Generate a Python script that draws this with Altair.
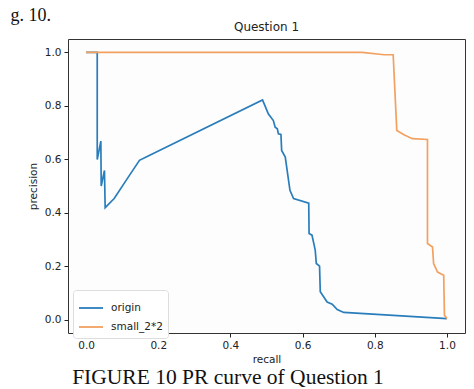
import altair as alt
import pandas as pd

# origin PR curve (recall, precision)
origin_recall = [0.0, 0.031, 0.031, 0.041, 0.042, 0.051, 0.053, 0.078, 0.111, 0.148, 0.175,
                 0.489, 0.505, 0.519, 0.524, 0.530, 0.533, 0.540, 0.542, 0.552, 0.565, 0.575,
                 0.617, 0.618, 0.626, 0.635, 0.638, 0.647, 0.649, 0.668, 0.682, 0.696, 0.714, 1.0]
origin_precision = [1.0, 1.0, 0.599, 0.668, 0.500, 0.558, 0.419, 0.453, 0.521, 0.596, 0.614,
                    0.822, 0.770, 0.745, 0.720, 0.714, 0.695, 0.693, 0.633, 0.608, 0.484, 0.453,
                    0.436, 0.322, 0.316, 0.260, 0.210, 0.200, 0.104, 0.066, 0.058, 0.038, 0.027, 0.004]

# small_2*2 PR curve
small_recall = [0.0, 0.765, 0.826, 0.851, 0.861, 0.881, 0.904, 0.946, 0.946, 0.960, 0.963,
                0.974, 0.991, 0.993, 1.0]
small_precision = [1.0, 1.0, 0.991, 0.991, 0.708, 0.692, 0.677, 0.674, 0.285, 0.272, 0.210,
                   0.178, 0.166, 0.017, 0.004]

series_names = ["origin", "small_2*2"]
series_colors = ["#2a7dbb", "#f2a160"]
ticks = [0.0, 0.2, 0.4, 0.6, 0.8, 1.0]

title_text = ["Question 1"]
caption_text = ["FIGURE 10 PR curve of Question 1"]
fragment_text = ["g. 10."]

rows = []
for i, (r, p) in enumerate(zip(origin_recall, origin_precision)):
    rows.append({"recall": r, "precision": p, "series": series_names[0], "order": i})
for i, (r, p) in enumerate(zip(small_recall, small_precision)):
    rows.append({"recall": r, "precision": p, "series": series_names[1], "order": i})
df = pd.DataFrame(rows)

font = "DejaVu Sans"

lines = alt.Chart(df).mark_line(strokeWidth=1.7, clip=True).encode(
    x=alt.X("recall:Q",
            scale=alt.Scale(domain=[-0.05, 1.05], nice=False, zero=False),
            axis=alt.Axis(values=ticks, format=".1f", title="recall", grid=False,
                          tickSize=4, labelPadding=3, titlePadding=4,
                          labelFontSize=10.5, titleFontSize=10.5,
                          labelColor="#222", titleColor="#222",
                          labelFont=font, titleFont=font, titleFontWeight="normal",
                          domain=False, tickColor="#222")),
    y=alt.Y("precision:Q",
            scale=alt.Scale(domain=[-0.05, 1.05], nice=False, zero=False),
            axis=alt.Axis(values=ticks, format=".1f", title="precision", grid=False,
                          tickSize=4, labelPadding=3, titlePadding=6,
                          labelFontSize=10.5, titleFontSize=10.5,
                          labelColor="#222", titleColor="#222",
                          labelFont=font, titleFont=font, titleFontWeight="normal",
                          domain=False, tickColor="#222")),
    color=alt.Color("series:N",
                    scale=alt.Scale(domain=series_names, range=series_colors),
                    legend=alt.Legend(title=None, orient="none", legendX=5, legendY=251,
                                      symbolType="stroke", symbolSize=576,
                                      symbolStrokeWidth=1.8, labelFontSize=10.5,
                                      labelFont=font, labelColor="#222", labelOffset=7,
                                      rowPadding=-6, padding=5,
                                      strokeColor="#dddddd", cornerRadius=3,
                                      fillColor="#ffffff")),
    order="order:Q",
)

title = alt.Chart(pd.DataFrame({"t": title_text})).mark_text(
    font=font, fontSize=12, align="center", baseline="alphabetic", color="#222"
).encode(text="t:N", x=alt.value(198.5), y=alt.value(-8))

caption = alt.Chart(pd.DataFrame({"t": caption_text})).mark_text(
    font="Liberation Serif", fontSize=21.5, align="center", baseline="alphabetic", color="#111"
).encode(text="t:N", x=alt.value(160), y=alt.value(344.5))

frag = alt.Chart(pd.DataFrame({"t": fragment_text})).mark_text(
    font="Liberation Serif", fontSize=18, align="right", baseline="alphabetic", color="#111"
).encode(text="t:N", x=alt.value(-17), y=alt.value(-18))

chart = alt.layer(lines, title, caption, frag).properties(
    width=397, height=294,
    autosize=alt.AutoSizeParams(type="none"),
    padding={"left": 60, "top": 31, "right": 1, "bottom": 60},
    background="#ffffff",
).configure_view(stroke="#333333", strokeWidth=1, fill="#fdfdfe")

chart.save("out.html", embed_options={"renderer": "svg", "actions": False})
